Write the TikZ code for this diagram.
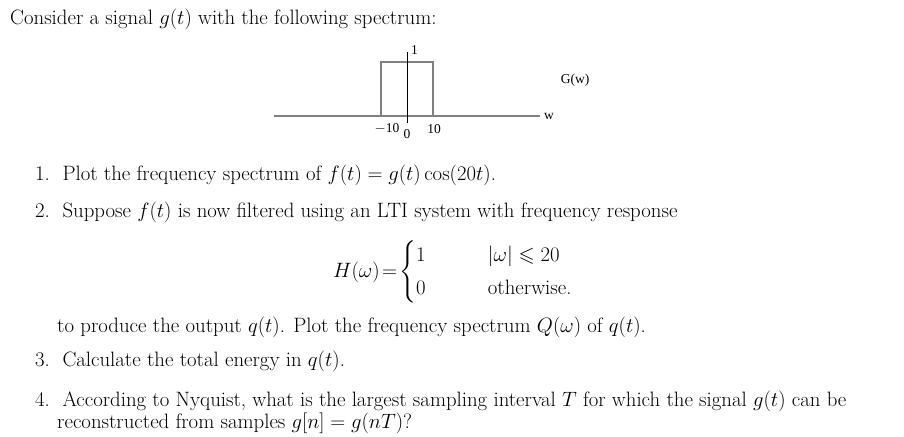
\documentclass[tikz,border=0pt]{standalone}
\usepackage{amsmath,amssymb}
\usepackage{fontspec}
\newfontfamily\tms{Liberation Serif}
\begin{document}
\begin{tikzpicture}[x=1pt,y=-1pt,
  txt/.style={anchor=base west,inner sep=0pt,font=\fontsize{20.8}{24}\selectfont},
  sm/.style={inner sep=0pt,font=\tms\fontsize{13.5}{15}\selectfont},
  ax/.style={draw=gray,line width=1.2pt}]
\useasboundingbox (0,0) rectangle (904,436);
\node[txt] (l0) at (10,25) {Consider a signal $g(t)$ with the following spectrum:};
\coordinate (axl) at (274,116); \coordinate (axr) at (540,116);
\draw[ax] (axl) -- (axr);
\coordinate (b1) at (381,116); \coordinate (b2) at (381,62); \coordinate (b3) at (433,62); \coordinate (b4) at (433,116);
\draw[ax] (b1) -- (b2) -- (b3) -- (b4);
\coordinate (vt) at (407,52); \coordinate (vb) at (407,123);
\draw[black,line width=0.8pt] (vt) -- (vb);
\node[sm,anchor=north west] (one) at (411,45) {1};
\node[sm] (gw) at (575,80) {G(w)};
\node[sm] (w) at (549,116) {w};
\node[sm] (m10) at (387,129) {$-$10};
\node[sm] (z) at (407,134) {0};
\node[sm] (p10) at (434,129) {10};
\node[txt] (i1) at (35,180) {1.\ \ Plot the frequency spectrum of $f(t)=g(t)\cos(20t)$.};
\node[txt] (i2) at (35,217) {2.\ \ Suppose $f(t)$ is now filtered using an LTI system with frequency response};
\node[anchor=west,inner sep=0pt,font=\fontsize{20.8}{24}\selectfont] (eq) at (333,272) {$H(\omega)\!=\!\begin{cases}1\qquad & |\omega|\leqslant 20\\[4pt] 0 & \text{otherwise.}\end{cases}$};
\node[txt] (tp) at (57,332) {to produce the output $q(t)$. Plot the frequency spectrum $Q(\omega)$ of $q(t)$.};
\node[txt] (i3) at (35,366) {3.\ \ Calculate the total energy in $q(t)$.};
\node[txt] (i4) at (35,406) {4.\ \ According to Nyquist, what is the largest sampling interval $T$ for which the signal $g(t)$ can be};
\node[txt] (i4b) at (57,428) {reconstructed from samples $g[n]=g(nT)$?};
\end{tikzpicture}
\end{document}
